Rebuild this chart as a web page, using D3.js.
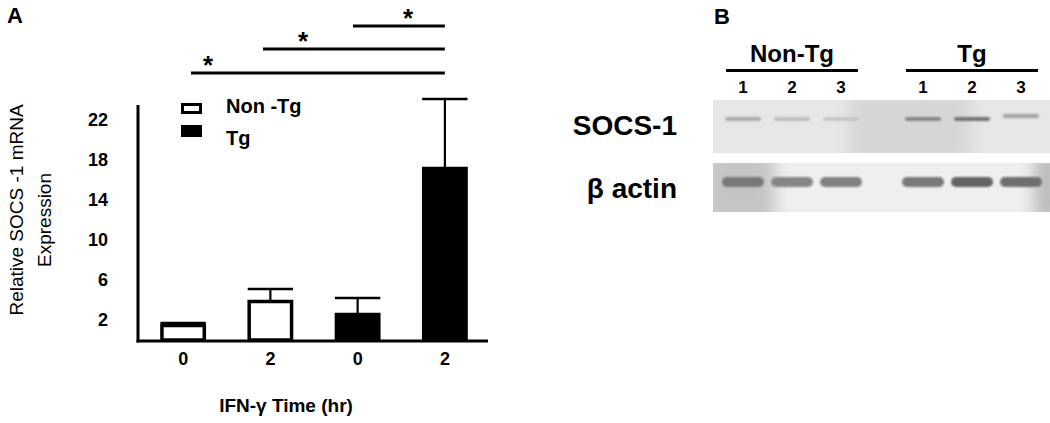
<!DOCTYPE html>
<html>
<head>
<meta charset="utf-8">
<script src="https://cdn.jsdelivr.net/npm/d3@7/dist/d3.min.js"></script>
<style>
  html, body { margin: 0; padding: 0; background: #fff; }
  svg { display: block; }
  text { font-family: "Liberation Sans", Arial, sans-serif; fill: #000; }
</style>
</head>
<body>
<svg id="chart" width="1050" height="423"></svg>
<script>
// ---------- Data (panel A) ----------
const groups = ["Non-Tg 0", "Non-Tg 2", "Tg 0", "Tg 2"];
const timeLabels = ["0", "2", "0", "2"];
const genotype = ["Non-Tg", "Non-Tg", "Tg", "Tg"];
const meanValues = [1.6, 4.0, 2.7, 17.3];
const errorValues = [0.1, 1.1, 1.5, 6.8];
const yTicks = [2, 6, 10, 14, 18, 22];
const legendLabels = ["Non -Tg", "Tg"];
// significance comparisons: [from group index, to group index]
const sigPairs = [[0, 3], [1, 3], [2, 3]];

// ---------- Data (panel B) ----------
const blotGroups = ["Non-Tg", "Tg"];
const laneLabels = ["1", "2", "3"];
const socsIntensity = [0.26, 0.17, 0.14, 0.42, 0.5, 0.3];
const actinIntensity = [0.5, 0.44, 0.46, 0.5, 0.58, 0.54];

const svg = d3.select("#chart");

// ---------- Panel A ----------
const y = d3.scaleLinear().domain([0, 24]).range([340, 100]);
const x = d3.scaleBand().domain(groups).range([139.5, 488.5]).paddingInner(0.48).paddingOuter(0.24);

// panel label
svg.append("text").attr("x", 7).attr("y", 23).attr("font-size", 22).attr("font-weight", "bold").text("A");

// y axis tick labels via d3 axis
const yAxis = d3.axisLeft(y).tickValues(yTicks).tickSize(0).tickPadding(30);
const gy = svg.append("g").attr("transform", "translate(138,0)").call(yAxis);
gy.select(".domain").remove();
gy.selectAll("text").attr("font-family", "Liberation Sans, Arial, sans-serif")
  .attr("font-size", 18).attr("font-weight", "bold").attr("fill", "#000");

// x axis labels via d3 axis
const xAxis = d3.axisBottom(x).tickSize(0).tickPadding(11).tickFormat((d, i) => timeLabels[i]);
const gx = svg.append("g").attr("transform", "translate(0,341)").call(xAxis);
gx.select(".domain").remove();
gx.selectAll("text").attr("font-family", "Liberation Sans, Arial, sans-serif")
  .attr("font-size", 18).attr("font-weight", "bold").attr("fill", "#000");

// axis lines
svg.append("line").attr("x1", 138).attr("x2", 138).attr("y1", 105).attr("y2", 342.5)
  .attr("stroke", "#000").attr("stroke-width", 3);
svg.append("line").attr("x1", 136.5).attr("x2", 488).attr("y1", 341).attr("y2", 341)
  .attr("stroke", "#000").attr("stroke-width", 3);

// bars
const data = groups.map((g, i) => ({ g, v: meanValues[i], e: errorValues[i], type: genotype[i] }));

// error bars (drawn first so bar covers the lower part)
const eb = svg.append("g").selectAll("g").data(data).enter().append("g");
eb.append("line")
  .attr("x1", d => x(d.g) + x.bandwidth() / 2).attr("x2", d => x(d.g) + x.bandwidth() / 2)
  .attr("y1", d => y(d.v)).attr("y2", d => y(d.v + d.e))
  .attr("stroke", "#000").attr("stroke-width", 2.2);
eb.append("line")
  .attr("x1", d => x(d.g)).attr("x2", d => x(d.g) + x.bandwidth())
  .attr("y1", d => y(d.v + d.e)).attr("y2", d => y(d.v + d.e))
  .attr("stroke", "#000").attr("stroke-width", 2.4);

svg.append("g").selectAll("rect").data(data).enter().append("rect")
  .attr("x", d => x(d.g) + 1.5)
  .attr("width", x.bandwidth() - 3)
  .attr("y", d => y(d.v) + 1.5)
  .attr("height", d => y(0) - y(d.v) - 1.5)
  .attr("fill", d => d.type === "Tg" ? "#000" : "#fff")
  .attr("stroke", "#000").attr("stroke-width", 3.5);

// legend
const legendTextY = [113, 145];
legendLabels.forEach((lab, i) => {
  svg.append("rect")
    .attr("x", i === 0 ? 182.5 : 181).attr("y", i === 0 ? 104.5 : 125)
    .attr("width", i === 0 ? 18 : 21).attr("height", i === 0 ? 8 : 12)
    .attr("fill", i === 0 ? "#fff" : "#000")
    .attr("stroke", i === 0 ? "#000" : "none").attr("stroke-width", 3);
  svg.append("text").attr("x", 226).attr("y", legendTextY[i])
    .attr("font-size", 20).attr("font-weight", "bold").text(lab);
});

// significance lines
const sigY = [73, 49, 26];
const sigStarX = [208, 303, 408];
const sigStart = [191, 263, 353];
sigPairs.forEach((p, i) => {
  const xEnd = x(groups[p[1]]) + x.bandwidth() / 2;
  svg.append("line")
    .attr("x1", sigStart[i]).attr("x2", xEnd)
    .attr("y1", sigY[i]).attr("y2", sigY[i])
    .attr("stroke", "#000").attr("stroke-width", 3.2);
  svg.append("text").attr("x", sigStarX[i]).attr("y", sigY[i] + 1)
    .attr("text-anchor", "middle").attr("font-size", 26).attr("font-weight", "bold").text("*");
});

// axis titles
svg.append("text").attr("text-anchor", "middle").attr("font-size", 19)
  .attr("transform", "translate(23,210) rotate(-90)").text("Relative SOCS -1 mRNA");
svg.append("text").attr("text-anchor", "middle").attr("font-size", 19)
  .attr("transform", "translate(51,220) rotate(-90)").text("Expression");
svg.append("text").attr("x", 286).attr("y", 412).attr("text-anchor", "middle")
  .attr("font-size", 19).attr("font-weight", "bold").text("IFN-\u03b3 Time (hr)");

// ---------- Panel B ----------
svg.append("text").attr("x", 714).attr("y", 24).attr("font-size", 22).attr("font-weight", "bold").text("B");

const gScale = d3.scalePoint().domain(blotGroups).range([792, 972]);
const lScale = d3.scalePoint().domain(laneLabels).range([-49, 49]);
const lanes = [];
blotGroups.forEach((g, gi) => laneLabels.forEach((l, li) => {
  lanes.push({ g, l, cx: gScale(g) + lScale(l), socs: socsIntensity[gi * 3 + li], actin: actinIntensity[gi * 3 + li] });
}));

const defs = svg.append("defs");
const blur = defs.append("filter").attr("id", "blur").attr("x", "-20%").attr("y", "-100%").attr("width", "140%").attr("height", "300%");
blur.append("feGaussianBlur").attr("stdDeviation", 1.3);
const blur2 = defs.append("filter").attr("id", "blur2").attr("x", "-50%").attr("y", "-20%").attr("width", "200%").attr("height", "140%");
blur2.append("feGaussianBlur").attr("stdDeviation", 8);
const clipS = defs.append("clipPath").attr("id", "clipS");
clipS.append("rect").attr("x", 713).attr("y", 100).attr("width", 337).attr("height", 53);
const clipA = defs.append("clipPath").attr("id", "clipA");
clipA.append("rect").attr("x", 713).attr("y", 163).attr("width", 337).attr("height", 49);

// group headers
blotGroups.forEach(g => {
  svg.append("text").attr("x", gScale(g)).attr("y", 62).attr("text-anchor", "middle")
    .attr("font-size", 24).attr("font-weight", "bold").text(g);
  svg.append("line").attr("x1", gScale(g) - 66).attr("x2", gScale(g) + 66)
    .attr("y1", 70.5).attr("y2", 70.5).attr("stroke", "#000").attr("stroke-width", 3);
});
svg.append("g").selectAll("text").data(lanes).enter().append("text")
  .attr("x", d => d.cx).attr("y", 93).attr("text-anchor", "middle")
  .attr("font-size", 17).attr("font-weight", "bold").text(d => d.l);

// SOCS-1 membrane
const socsTop = 100, socsH = 53, actTop = 163, actH = 49, memX = 713;
const gS = svg.append("g").attr("clip-path", "url(#clipS)");
gS.append("rect").attr("x", memX).attr("y", socsTop).attr("width", 1050 - memX).attr("height", socsH).attr("fill", "#e6e6e6");
gS.append("rect").attr("x", 850).attr("y", socsTop - 10).attr("width", 120).attr("height", socsH + 20)
  .attr("fill", "#d6d6d6").attr("filter", "url(#blur2)");
// beta actin membrane
const gA = svg.append("g").attr("clip-path", "url(#clipA)");
gA.append("rect").attr("x", memX).attr("y", actTop).attr("width", 1050 - memX).attr("height", actH).attr("fill", "#efefef");
gA.append("rect").attr("x", memX - 10).attr("y", actTop - 10).attr("width", 72).attr("height", actH + 20).attr("fill", "#c4c4c4").attr("filter", "url(#blur2)");
gA.append("rect").attr("x", 1034).attr("y", actTop - 10).attr("width", 30).attr("height", actH + 20).attr("fill", "#bcbcbc").attr("filter", "url(#blur2)");

const grey = d3.interpolateRgb("#e6e6e6", "#000");
const grey2 = d3.interpolateRgb("#efefef", "#000");
gS.append("g").selectAll("rect").data(lanes).enter().append("rect")
  .attr("x", d => d.cx - 18).attr("width", 36)
  .attr("y", (d, i) => i === 5 ? 114 : 117).attr("height", 4).attr("rx", 2)
  .attr("fill", d => grey(d.socs)).attr("filter", "url(#blur)");
gA.append("g").selectAll("rect").data(lanes).enter().append("rect")
  .attr("x", d => d.cx - 21).attr("width", 42)
  .attr("y", 177).attr("height", 10).attr("rx", 5)
  .attr("fill", d => grey2(d.actin)).attr("filter", "url(#blur)");

// row labels
svg.append("text").attr("x", 677).attr("y", 135).attr("text-anchor", "end")
  .attr("font-size", 28).attr("font-weight", "bold").text("SOCS-1");
svg.append("text").attr("x", 677).attr("y", 198).attr("text-anchor", "end")
  .attr("font-size", 28).attr("font-weight", "bold").text("\u03b2 actin");
</script>
</body>
</html>
